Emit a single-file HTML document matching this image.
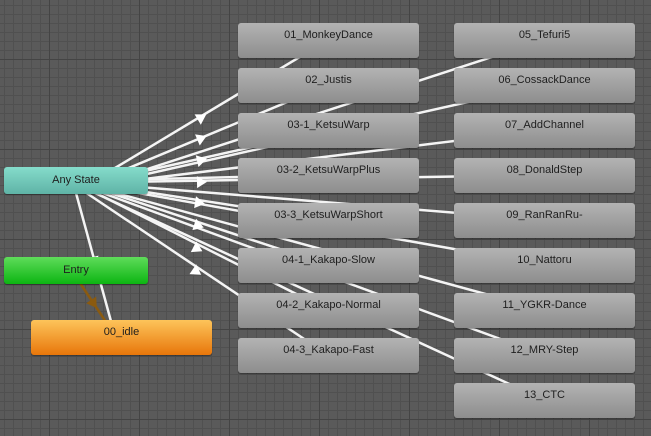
<!DOCTYPE html>
<html><head><meta charset="utf-8"><style>
html,body{margin:0;padding:0}
body{width:651px;height:436px;overflow:hidden;position:relative;background-color:#5a5a5a;
background-image:
linear-gradient(to right,#444 0,#444 1px,transparent 1px),
linear-gradient(to bottom,#444 0,#444 1px,transparent 1px),
linear-gradient(to right,#505050 0,#505050 1px,transparent 1px),
linear-gradient(to bottom,#505050 0,#505050 1px,transparent 1px);
background-size:90px 90px,90px 90px,9px 9px,9px 9px;
background-position:49px 59px,49px 59px,4px 5px,4px 5px;
font-family:"Liberation Sans",sans-serif;}
svg{position:absolute;left:0;top:0}
.n{position:absolute;width:181px;height:35px;border-radius:3px;box-sizing:border-box;
background:linear-gradient(#b3b3b3,#8d8d8d);box-shadow:0 1px 1px rgba(0,0,0,.4);
font-size:11px;color:#1e1e1e;text-align:center;line-height:25px}
</style></head><body>
<svg width="651" height="436">
<g stroke="#f4f4f4" stroke-width="2.5" fill="none">
<line x1="95" y1="180" x2="328" y2="40"/>
<line x1="100" y1="180" x2="328" y2="85"/>
<line x1="105" y1="180" x2="328" y2="130"/>
<line x1="110" y1="180" x2="328" y2="175"/>
<line x1="100" y1="185" x2="328" y2="220"/>
<line x1="95" y1="188" x2="328" y2="265"/>
<line x1="90" y1="190" x2="328" y2="310"/>
<line x1="85" y1="192" x2="328" y2="355"/>
<line x1="120" y1="178" x2="544" y2="40"/>
<line x1="120" y1="180" x2="544" y2="85"/>
<line x1="120" y1="182" x2="544" y2="130"/>
<line x1="120" y1="182" x2="544" y2="175"/>
<line x1="115" y1="185" x2="544" y2="220"/>
<line x1="110" y1="188" x2="544" y2="265"/>
<line x1="105" y1="190" x2="544" y2="310"/>
<line x1="100" y1="192" x2="544" y2="355"/>
<line x1="95" y1="193" x2="544" y2="400"/>
<line x1="76" y1="193" x2="112" y2="325"/>
</g>
<line x1="80" y1="283" x2="106" y2="322" stroke="#8a5a10" stroke-width="2.5"/>
<g fill="#fff">
<polygon points="-5,-6 5,0 -5,6" transform="translate(202,117) rotate(-31)"/>
<polygon points="-5,-6 5,0 -5,6" transform="translate(202,138) rotate(-23)"/>
<polygon points="-5,-6 5,0 -5,6" transform="translate(202,160) rotate(-13)"/>
<polygon points="-5,-6 5,0 -5,6" transform="translate(202,182) rotate(-1)"/>
<polygon points="-5,-6 5,0 -5,6" transform="translate(200,203) rotate(9)"/>
<polygon points="-5,-6 5,0 -5,6" transform="translate(199,226) rotate(18)"/>
<polygon points="-5,-6 5,0 -5,6" transform="translate(198,249) rotate(27)"/>
<polygon points="-5,-6 5,0 -5,6" transform="translate(197,272) rotate(34)"/>
<polygon points="-5,-6 5,0 -5,6" transform="translate(94,262) rotate(75)"/>
</g>
<polygon points="-5,-6 5,0 -5,6" fill="#8a5a10" transform="translate(94,304) rotate(56)"/>
</svg>
<div class="n" style="left:4px;top:167px;width:144px;height:27px;line-height:27px;background:linear-gradient(#85dccb,#5fb3a6)">Any State</div>
<div class="n" style="left:4px;top:257px;width:144px;height:27px;line-height:27px;background:linear-gradient(#5fdc5a,#0cb512)">Entry</div>
<div class="n" style="left:31px;top:320px;background:linear-gradient(#fdc45a,#e8760a)">00_idle</div>
<div class="n" style="left:238px;top:23px">01_MonkeyDance</div>
<div class="n" style="left:238px;top:68px">02_Justis</div>
<div class="n" style="left:238px;top:113px">03-1_KetsuWarp</div>
<div class="n" style="left:238px;top:158px">03-2_KetsuWarpPlus</div>
<div class="n" style="left:238px;top:203px">03-3_KetsuWarpShort</div>
<div class="n" style="left:238px;top:248px">04-1_Kakapo-Slow</div>
<div class="n" style="left:238px;top:293px">04-2_Kakapo-Normal</div>
<div class="n" style="left:238px;top:338px">04-3_Kakapo-Fast</div>
<div class="n" style="left:454px;top:23px">05_Tefuri5</div>
<div class="n" style="left:454px;top:68px">06_CossackDance</div>
<div class="n" style="left:454px;top:113px">07_AddChannel</div>
<div class="n" style="left:454px;top:158px">08_DonaldStep</div>
<div class="n" style="left:454px;top:203px">09_RanRanRu-</div>
<div class="n" style="left:454px;top:248px">10_Nattoru</div>
<div class="n" style="left:454px;top:293px">11_YGKR-Dance</div>
<div class="n" style="left:454px;top:338px">12_MRY-Step</div>
<div class="n" style="left:454px;top:383px">13_CTC</div>
</body></html>
